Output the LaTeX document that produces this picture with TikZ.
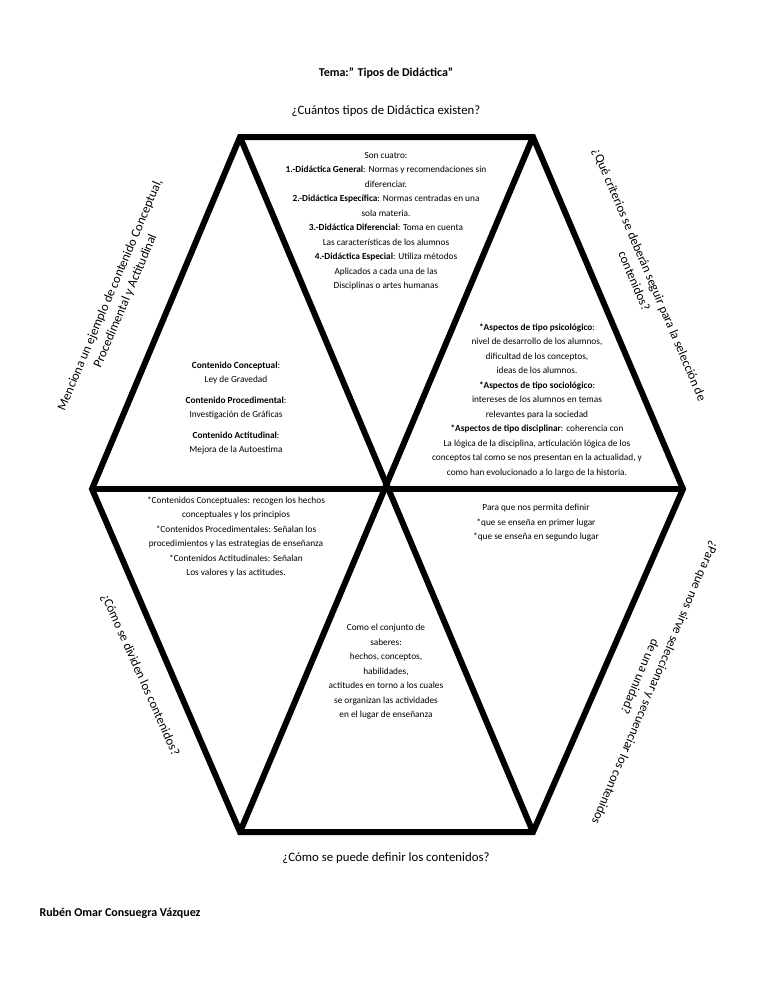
\documentclass[tikz,border=0pt]{standalone}
\usepackage{fontspec}
\setmainfont{Carlito}
\begin{document}
\begin{tikzpicture}[x=1pt,y=-1pt,
  edge/.style={line width=6pt,line join=miter},
  txt/.style={align=center,font=\fontsize{9.3}{14.5}\selectfont,inner sep=0pt},
  side/.style={align=center,font=\fontsize{12.8}{16.5}\selectfont,inner sep=0pt}]
\useasboundingbox (0,0) rectangle (768,994);
\coordinate (TL) at (240,137); \coordinate (TR) at (533,137);
\coordinate (R) at (683,489); \coordinate (BR) at (533,832);
\coordinate (BL) at (240,832); \coordinate (L) at (92,489);
\coordinate (C) at (386,489);
\draw[edge] (TL)--(TR)--(R)--(BR)--(BL)--(L)--cycle;
\draw[edge] (TL)--(BR); \draw[edge] (TR)--(BL); \draw[edge] (L)--(R);
\node[font=\bfseries\fontsize{12}{14}\selectfont] (title) at (386,73) {Tema:” Tipos de Didáctica”};
\node[side] (q1) at (386,111) {¿Cuántos tipos de Didáctica existen?};
\node[side] (q4) at (386,858) {¿Cómo se puede definir los contenidos?};
\node[font=\bfseries\fontsize{12}{14}\selectfont,anchor=west] (auth) at (36,913) {Rubén Omar Consuegra Vázquez};
\node[side,rotate=67] (q6) at (118,298) {Menciona un ejemplo de contenido Conceptual,\\Procedimental y Actitudinal};
\node[side,rotate=-67] (q2) at (642,278) {¿Qué criterios se deberán seguir para la selección de\\contenidos?};
\node[side,rotate=247] (q3) at (648,680) {¿Para que nos sirve seleccionar y secuenciar los contenidos\\de una unidad?};
\node[side,rotate=-66] (q5) at (140,675) {¿Cómo se dividen los contenidos?};
\node[txt] (t1) at (386,221) {Son cuatro:\\
\textbf{1.-Didáctica General}: Normas y recomendaciones sin\\diferenciar.\\
\textbf{2.-Didáctica Específica}: Normas centradas en una\\sola materia.\\
\textbf{3.-Didáctica Diferencial}: Toma en cuenta\\Las características de los alumnos\\
\textbf{4.-Didáctica Especial}: Utiliza métodos\\Aplicados a cada una de las\\Disciplinas o artes humanas};
\node[txt] (t2) at (537,400) {\textbf{*Aspectos de tipo psicológico}:\\nivel de desarrollo de los alumnos,\\dificultad de los conceptos,\\ideas de los alumnos.\\
\textbf{*Aspectos de tipo sociológico}:\\intereses de los alumnos en temas\\relevantes para la sociedad\\
\textbf{*Aspectos de tipo disciplinar}: coherencia con\\La lógica de la disciplina, articulación lógica de los\\conceptos tal como se nos presentan en la actualidad, y\\como han evolucionado a lo largo de la historia.};
\node[txt] (t6) at (236,408) {\textbf{Contenido Conceptual}:\\Ley de Gravedad\\[6pt]\textbf{Contenido Procedimental}:\\Investigación de Gráficas\\[6pt]\textbf{Contenido Actitudinal}:\\Mejora de la Autoestima};
\node[txt] (t5) at (236,537) {*Contenidos Conceptuales: recogen los hechos\\conceptuales y los principios\\*Contenidos Procedimentales: Señalan los\\procedimientos y las estrategias de enseñanza\\*Contenidos Actitudinales: Señalan\\Los valores y las actitudes.};
\node[txt] (t3) at (536,523) {Para que nos permita definir\\*que se enseña en primer lugar\\*que se enseña en segundo lugar};
\node[txt] (t4) at (386,672) {Como el conjunto de\\saberes:\\hechos, conceptos,\\habilidades,\\actitudes en torno a los cuales\\se organizan las actividades\\en el lugar de enseñanza};
\end{tikzpicture}
\end{document}
